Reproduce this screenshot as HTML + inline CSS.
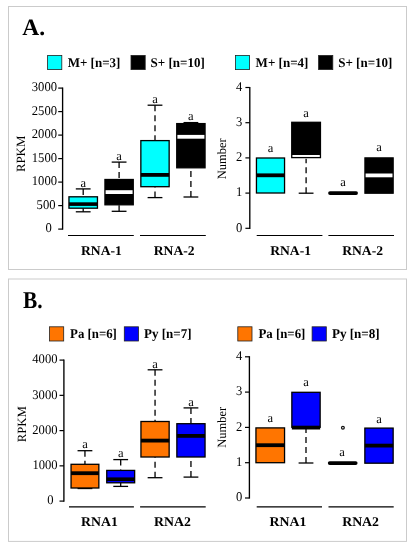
<!DOCTYPE html>
<html lang="en"><head><meta charset="utf-8"><title>Figure</title>
<style>
html,body{margin:0;padding:0;background:#fff;}
body{width:412px;height:550px;overflow:hidden;}
svg{display:block;text-rendering:geometricPrecision;font-family:"Liberation Serif","DejaVu Serif",serif;fill:#000;}
</style></head><body>
<svg width="412" height="550" viewBox="0 0 412 550">
<rect width="412" height="550" fill="#fff"/>
<rect x="8.5" y="6.5" width="398" height="263" fill="#fff" stroke="#cbcbcb" stroke-width="1"/>
<rect x="8.5" y="279" width="398" height="262.4" fill="#fff" stroke="#cbcbcb" stroke-width="1"/>
<text x="22.3" y="34.85" font-size="23.4" font-weight="bold" textLength="22.8" lengthAdjust="spacingAndGlyphs">A.</text>
<rect x="47.6" y="55.4" width="14.2" height="14.2" fill="#00FFFF" stroke="#222" stroke-width="0.8"/>
<text x="67.7" y="66.8" font-size="13.4" font-weight="bold" textLength="52.7" lengthAdjust="spacingAndGlyphs">M+ [n=3]</text>
<rect x="131" y="55.4" width="14.2" height="14.2" fill="#000" stroke="#222" stroke-width="0.8"/>
<text x="150.6" y="66.8" font-size="13.4" font-weight="bold" textLength="54.2" lengthAdjust="spacingAndGlyphs">S+ [n=10]</text>
<rect x="235.4" y="55.4" width="14.2" height="14.2" fill="#00FFFF" stroke="#222" stroke-width="0.8"/>
<text x="255.6" y="66.8" font-size="13.4" font-weight="bold" textLength="52.8" lengthAdjust="spacingAndGlyphs">M+ [n=4]</text>
<rect x="318.6" y="55.4" width="14.2" height="14.2" fill="#000" stroke="#222" stroke-width="0.8"/>
<text x="338.2" y="66.8" font-size="13.4" font-weight="bold" textLength="54.2" lengthAdjust="spacingAndGlyphs">S+ [n=10]</text>
<line x1="62.6" y1="87.5" x2="62.6" y2="229.7" stroke="#000" stroke-width="1.35"/>
<line x1="58.2" y1="88.1" x2="62.6" y2="88.1" stroke="#000" stroke-width="1.2"/>
<text x="57.0" y="91.4" font-size="13.4" text-anchor="end" textLength="25.2" lengthAdjust="spacingAndGlyphs">3000</text>
<line x1="58.2" y1="111.6" x2="62.6" y2="111.6" stroke="#000" stroke-width="1.2"/>
<text x="57.0" y="114.9" font-size="13.4" text-anchor="end" textLength="25.2" lengthAdjust="spacingAndGlyphs">2500</text>
<line x1="58.2" y1="135.1" x2="62.6" y2="135.1" stroke="#000" stroke-width="1.2"/>
<text x="57.0" y="138.4" font-size="13.4" text-anchor="end" textLength="25.2" lengthAdjust="spacingAndGlyphs">2000</text>
<line x1="58.2" y1="158.6" x2="62.6" y2="158.6" stroke="#000" stroke-width="1.2"/>
<text x="57.0" y="161.9" font-size="13.4" text-anchor="end" textLength="25.2" lengthAdjust="spacingAndGlyphs">1500</text>
<line x1="58.2" y1="182.1" x2="62.6" y2="182.1" stroke="#000" stroke-width="1.2"/>
<text x="57.0" y="185.4" font-size="13.4" text-anchor="end" textLength="25.2" lengthAdjust="spacingAndGlyphs">1000</text>
<line x1="58.2" y1="205.6" x2="62.6" y2="205.6" stroke="#000" stroke-width="1.2"/>
<text x="55.5" y="208.9" font-size="13.4" text-anchor="end" textLength="18.9" lengthAdjust="spacingAndGlyphs">500</text>
<line x1="58.2" y1="229.1" x2="62.6" y2="229.1" stroke="#000" stroke-width="1.2"/>
<text x="51.7" y="232.4" font-size="13.4" text-anchor="end" textLength="6.3" lengthAdjust="spacingAndGlyphs">0</text>
<text transform="translate(25 153.9) rotate(-90)" font-size="12.6" text-anchor="middle" textLength="36.4" lengthAdjust="spacingAndGlyphs">RPKM</text>
<line x1="83.19999999999999" y1="188.9" x2="83.19999999999999" y2="196.8" stroke="#000" stroke-width="1.3" stroke-dasharray="6 4"/>
<line x1="75.79999999999998" y1="188.9" x2="90.6" y2="188.9" stroke="#000" stroke-width="1.3"/>
<line x1="83.19999999999999" y1="211.8" x2="83.19999999999999" y2="208.2" stroke="#000" stroke-width="1.3" stroke-dasharray="6 4"/>
<line x1="75.79999999999998" y1="211.8" x2="90.6" y2="211.8" stroke="#000" stroke-width="1.3"/>
<rect x="68.95" y="196.80" width="28.50" height="11.40" fill="#00FFFF"/>
<line x1="68.95" y1="204.1" x2="97.44999999999999" y2="204.1" stroke="#000" stroke-width="3.6"/>
<rect x="68.95" y="196.80" width="28.50" height="11.40" fill="none" stroke="#000" stroke-width="1.3"/>
<text x="83.19999999999999" y="186.6" font-size="12.5" text-anchor="middle">a</text>
<line x1="119.1" y1="162.1" x2="119.1" y2="179.5" stroke="#000" stroke-width="1.3" stroke-dasharray="6 4"/>
<line x1="111.69999999999999" y1="162.1" x2="126.5" y2="162.1" stroke="#000" stroke-width="1.3"/>
<line x1="119.1" y1="211.3" x2="119.1" y2="204.79999999999998" stroke="#000" stroke-width="1.3" stroke-dasharray="6 4"/>
<line x1="111.69999999999999" y1="211.3" x2="126.5" y2="211.3" stroke="#000" stroke-width="1.3"/>
<rect x="104.95" y="179.50" width="28.30" height="25.30" fill="#000"/>
<line x1="104.95" y1="192.1" x2="133.25" y2="192.1" stroke="#fff" stroke-width="3.8"/>
<rect x="104.95" y="179.50" width="28.30" height="25.30" fill="none" stroke="#000" stroke-width="1.3"/>
<text x="119.1" y="159.5" font-size="12.5" text-anchor="middle">a</text>
<line x1="155.0" y1="105.2" x2="155.0" y2="140.60000000000002" stroke="#000" stroke-width="1.3" stroke-dasharray="6 4"/>
<line x1="147.6" y1="105.2" x2="162.4" y2="105.2" stroke="#000" stroke-width="1.3"/>
<line x1="155.0" y1="197.6" x2="155.0" y2="186.7" stroke="#000" stroke-width="1.3" stroke-dasharray="6 4"/>
<line x1="147.6" y1="197.6" x2="162.4" y2="197.6" stroke="#000" stroke-width="1.3"/>
<rect x="140.85" y="140.60" width="28.30" height="46.10" fill="#00FFFF"/>
<line x1="140.85" y1="174.9" x2="169.15" y2="174.9" stroke="#000" stroke-width="3.8"/>
<rect x="140.85" y="140.60" width="28.30" height="46.10" fill="none" stroke="#000" stroke-width="1.3"/>
<text x="155.0" y="103.3" font-size="12.5" text-anchor="middle">a</text>
<line x1="190.89999999999998" y1="122.6" x2="190.89999999999998" y2="123.6" stroke="#000" stroke-width="1.3" stroke-dasharray="6 4"/>
<line x1="183.49999999999997" y1="122.6" x2="198.29999999999998" y2="122.6" stroke="#000" stroke-width="1.3"/>
<line x1="190.89999999999998" y1="197" x2="190.89999999999998" y2="167.79999999999998" stroke="#000" stroke-width="1.3" stroke-dasharray="6 4"/>
<line x1="183.49999999999997" y1="197" x2="198.29999999999998" y2="197" stroke="#000" stroke-width="1.3"/>
<rect x="176.75" y="123.60" width="28.30" height="44.20" fill="#000"/>
<line x1="176.75" y1="136.8" x2="205.04999999999998" y2="136.8" stroke="#fff" stroke-width="3.8"/>
<rect x="176.75" y="123.60" width="28.30" height="44.20" fill="none" stroke="#000" stroke-width="1.3"/>
<text x="190.89999999999998" y="120" font-size="12.5" text-anchor="middle">a</text>
<line x1="68" y1="235.5" x2="133.8" y2="235.5" stroke="#000" stroke-width="1.2"/>
<line x1="140" y1="235.5" x2="205.8" y2="235.5" stroke="#000" stroke-width="1.2"/>
<text x="101.4" y="254.9" font-size="13.4" text-anchor="middle" font-weight="bold" textLength="40.8" lengthAdjust="spacingAndGlyphs">RNA-1</text>
<text x="174.2" y="254.9" font-size="13.4" text-anchor="middle" font-weight="bold" textLength="40.8" lengthAdjust="spacingAndGlyphs">RNA-2</text>
<line x1="249.8" y1="86.9" x2="249.8" y2="228.9" stroke="#000" stroke-width="1.35"/>
<line x1="245.4" y1="87.5" x2="249.8" y2="87.5" stroke="#000" stroke-width="1.2"/>
<text x="242.2" y="90.8" font-size="13.4" text-anchor="end" textLength="6.3" lengthAdjust="spacingAndGlyphs">4</text>
<line x1="245.4" y1="122.7" x2="249.8" y2="122.7" stroke="#000" stroke-width="1.2"/>
<text x="242.2" y="126.0" font-size="13.4" text-anchor="end" textLength="6.3" lengthAdjust="spacingAndGlyphs">3</text>
<line x1="245.4" y1="157.9" x2="249.8" y2="157.9" stroke="#000" stroke-width="1.2"/>
<text x="242.2" y="161.2" font-size="13.4" text-anchor="end" textLength="6.3" lengthAdjust="spacingAndGlyphs">2</text>
<line x1="245.4" y1="193.10000000000002" x2="249.8" y2="193.10000000000002" stroke="#000" stroke-width="1.2"/>
<text x="242.2" y="196.4" font-size="13.4" text-anchor="end" textLength="6.3" lengthAdjust="spacingAndGlyphs">1</text>
<line x1="245.4" y1="228.3" x2="249.8" y2="228.3" stroke="#000" stroke-width="1.2"/>
<text x="242.2" y="231.6" font-size="13.4" text-anchor="end" textLength="6.3" lengthAdjust="spacingAndGlyphs">0</text>
<text transform="translate(225.6 158.8) rotate(-90)" font-size="12.6" text-anchor="middle" textLength="40.9" lengthAdjust="spacingAndGlyphs">Number</text>
<rect x="256.45" y="158.00" width="28.10" height="35.00" fill="#00FFFF"/>
<line x1="256.45" y1="175.3" x2="284.55" y2="175.3" stroke="#000" stroke-width="3.8"/>
<rect x="256.45" y="158.00" width="28.10" height="35.00" fill="none" stroke="#000" stroke-width="1.3"/>
<text x="270.5" y="152" font-size="12.5" text-anchor="middle">a</text>
<line x1="306.1" y1="193.2" x2="306.1" y2="157.6" stroke="#000" stroke-width="1.3" stroke-dasharray="6 4"/>
<line x1="298.70000000000005" y1="193.2" x2="313.5" y2="193.2" stroke="#000" stroke-width="1.3"/>
<rect x="291.75" y="122.30" width="28.70" height="35.30" fill="#000"/>
<line x1="291.75" y1="156.9" x2="320.45000000000005" y2="156.9" stroke="#fff" stroke-width="3.8"/>
<rect x="291.75" y="122.30" width="28.70" height="35.30" fill="none" stroke="#000" stroke-width="1.3"/>
<text x="306.1" y="116.5" font-size="12.5" text-anchor="middle">a</text>
<line x1="330" y1="193.1" x2="356.1" y2="193.1" stroke="#000" stroke-width="3.7" stroke-linecap="round"/>
<text x="343" y="186.3" font-size="12.5" text-anchor="middle">a</text>
<rect x="364.95" y="157.90" width="28.20" height="35.30" fill="#000"/>
<line x1="364.95" y1="175.4" x2="393.15000000000003" y2="175.4" stroke="#fff" stroke-width="3.8"/>
<rect x="364.95" y="157.90" width="28.20" height="35.30" fill="none" stroke="#000" stroke-width="1.3"/>
<text x="379.05" y="151" font-size="12.5" text-anchor="middle">a</text>
<line x1="256.7" y1="235.5" x2="322.4" y2="235.5" stroke="#000" stroke-width="1.2"/>
<line x1="328.4" y1="235.5" x2="394" y2="235.5" stroke="#000" stroke-width="1.2"/>
<text x="290.6" y="254.9" font-size="13.4" text-anchor="middle" font-weight="bold" textLength="40.8" lengthAdjust="spacingAndGlyphs">RNA-1</text>
<text x="362.6" y="254.9" font-size="13.4" text-anchor="middle" font-weight="bold" textLength="40.8" lengthAdjust="spacingAndGlyphs">RNA-2</text>
<text x="23.1" y="307.7" font-size="24.2" font-weight="bold" textLength="19.6" lengthAdjust="spacingAndGlyphs">B.</text>
<rect x="49.5" y="326.8" width="14.2" height="14.2" fill="#FF7500" stroke="#222" stroke-width="0.8"/>
<text x="70.1" y="338.1" font-size="13.4" font-weight="bold" textLength="46.8" lengthAdjust="spacingAndGlyphs">Pa [n=6]</text>
<rect x="124.3" y="326.8" width="14.2" height="14.2" fill="#0000FF" stroke="#222" stroke-width="0.8"/>
<text x="144" y="338.1" font-size="13.4" font-weight="bold" textLength="47.5" lengthAdjust="spacingAndGlyphs">Py [n=7]</text>
<rect x="237.8" y="326.8" width="14.2" height="14.2" fill="#FF7500" stroke="#222" stroke-width="0.8"/>
<text x="258.4" y="338.1" font-size="13.4" font-weight="bold" textLength="47" lengthAdjust="spacingAndGlyphs">Pa [n=6]</text>
<rect x="312.1" y="326.8" width="14.2" height="14.2" fill="#0000FF" stroke="#222" stroke-width="0.8"/>
<text x="331.9" y="338.1" font-size="13.4" font-weight="bold" textLength="47.8" lengthAdjust="spacingAndGlyphs">Py [n=8]</text>
<line x1="63.9" y1="359.5" x2="63.9" y2="501.70000000000005" stroke="#000" stroke-width="1.35"/>
<line x1="59.5" y1="360.1" x2="63.9" y2="360.1" stroke="#000" stroke-width="1.2"/>
<text x="57.5" y="363.4" font-size="13.2" text-anchor="end" textLength="25.2" lengthAdjust="spacingAndGlyphs">4000</text>
<line x1="59.5" y1="395.35" x2="63.9" y2="395.35" stroke="#000" stroke-width="1.2"/>
<text x="57.5" y="398.65" font-size="13.2" text-anchor="end" textLength="25.2" lengthAdjust="spacingAndGlyphs">3000</text>
<line x1="59.5" y1="430.6" x2="63.9" y2="430.6" stroke="#000" stroke-width="1.2"/>
<text x="57.5" y="433.9" font-size="13.2" text-anchor="end" textLength="25.2" lengthAdjust="spacingAndGlyphs">2000</text>
<line x1="59.5" y1="465.85" x2="63.9" y2="465.85" stroke="#000" stroke-width="1.2"/>
<text x="57.6" y="469.15" font-size="13.2" text-anchor="end" textLength="25.2" lengthAdjust="spacingAndGlyphs">1000</text>
<line x1="59.5" y1="501.1" x2="63.9" y2="501.1" stroke="#000" stroke-width="1.2"/>
<text x="53.5" y="504.4" font-size="13.2" text-anchor="end" textLength="6.3" lengthAdjust="spacingAndGlyphs">0</text>
<text transform="translate(26.2 424.2) rotate(-90)" font-size="12.6" text-anchor="middle" textLength="36.3" lengthAdjust="spacingAndGlyphs">RPKM</text>
<line x1="84.95" y1="450.7" x2="84.95" y2="464.3" stroke="#000" stroke-width="1.3" stroke-dasharray="6 4"/>
<line x1="77.55" y1="450.7" x2="92.35000000000001" y2="450.7" stroke="#000" stroke-width="1.3"/>
<line x1="77.55" y1="488.5" x2="92.35000000000001" y2="488.5" stroke="#000" stroke-width="1.3"/>
<rect x="71.05" y="464.30" width="27.80" height="23.70" fill="#FF7500"/>
<line x1="71.05000000000001" y1="473.2" x2="98.85" y2="473.2" stroke="#000" stroke-width="3.8"/>
<rect x="71.05" y="464.30" width="27.80" height="23.70" fill="none" stroke="#000" stroke-width="1.3"/>
<text x="84.95" y="447.8" font-size="12.5" text-anchor="middle">a</text>
<line x1="120.7" y1="459.6" x2="120.7" y2="470.40000000000003" stroke="#000" stroke-width="1.3" stroke-dasharray="6 4"/>
<line x1="113.3" y1="459.6" x2="128.1" y2="459.6" stroke="#000" stroke-width="1.3"/>
<line x1="120.7" y1="486.4" x2="120.7" y2="482.8" stroke="#000" stroke-width="1.3" stroke-dasharray="6 4"/>
<line x1="113.3" y1="486.4" x2="128.1" y2="486.4" stroke="#000" stroke-width="1.3"/>
<rect x="106.75" y="470.40" width="27.90" height="12.40" fill="#0000FF"/>
<line x1="106.75" y1="479.2" x2="134.65" y2="479.2" stroke="#000" stroke-width="3.6"/>
<rect x="106.75" y="470.40" width="27.90" height="12.40" fill="none" stroke="#000" stroke-width="1.3"/>
<text x="120.7" y="456.9" font-size="12.5" text-anchor="middle">a</text>
<line x1="155.05" y1="369.8" x2="155.05" y2="421.5" stroke="#000" stroke-width="1.3" stroke-dasharray="6 4"/>
<line x1="147.65" y1="369.8" x2="162.45000000000002" y2="369.8" stroke="#000" stroke-width="1.3"/>
<line x1="155.05" y1="477.7" x2="155.05" y2="457.0" stroke="#000" stroke-width="1.3" stroke-dasharray="6 4"/>
<line x1="147.65" y1="477.7" x2="162.45000000000002" y2="477.7" stroke="#000" stroke-width="1.3"/>
<rect x="140.95" y="421.50" width="28.20" height="35.50" fill="#FF7500"/>
<line x1="140.95000000000002" y1="440.6" x2="169.15" y2="440.6" stroke="#000" stroke-width="3.8"/>
<rect x="140.95" y="421.50" width="28.20" height="35.50" fill="none" stroke="#000" stroke-width="1.3"/>
<text x="155.05" y="367.5" font-size="12.5" text-anchor="middle">a</text>
<line x1="190.95" y1="407.9" x2="190.95" y2="423.7" stroke="#000" stroke-width="1.3" stroke-dasharray="6 4"/>
<line x1="183.54999999999998" y1="407.9" x2="198.35" y2="407.9" stroke="#000" stroke-width="1.3"/>
<line x1="190.95" y1="477.1" x2="190.95" y2="457.0" stroke="#000" stroke-width="1.3" stroke-dasharray="6 4"/>
<line x1="183.54999999999998" y1="477.1" x2="198.35" y2="477.1" stroke="#000" stroke-width="1.3"/>
<rect x="176.85" y="423.70" width="28.20" height="33.30" fill="#0000FF"/>
<line x1="176.85" y1="435.9" x2="205.04999999999998" y2="435.9" stroke="#000" stroke-width="3.8"/>
<rect x="176.85" y="423.70" width="28.20" height="33.30" fill="none" stroke="#000" stroke-width="1.3"/>
<text x="190.95" y="405.7" font-size="12.5" text-anchor="middle">a</text>
<line x1="69" y1="506.8" x2="133.9" y2="506.8" stroke="#000" stroke-width="1.2"/>
<line x1="140.1" y1="506.8" x2="205.7" y2="506.8" stroke="#000" stroke-width="1.2"/>
<text x="99.4" y="525.8" font-size="13.4" text-anchor="middle" font-weight="bold" textLength="36.8" lengthAdjust="spacingAndGlyphs">RNA1</text>
<text x="172.4" y="525.8" font-size="13.4" text-anchor="middle" font-weight="bold" textLength="36.8" lengthAdjust="spacingAndGlyphs">RNA2</text>
<line x1="249.4" y1="356.2" x2="249.4" y2="498.6" stroke="#000" stroke-width="1.35"/>
<line x1="245.0" y1="356.8" x2="249.4" y2="356.8" stroke="#000" stroke-width="1.2"/>
<text x="242.4" y="360.1" font-size="13.4" text-anchor="end" textLength="6.3" lengthAdjust="spacingAndGlyphs">4</text>
<line x1="245.0" y1="392.1" x2="249.4" y2="392.1" stroke="#000" stroke-width="1.2"/>
<text x="242.4" y="395.4" font-size="13.4" text-anchor="end" textLength="6.3" lengthAdjust="spacingAndGlyphs">3</text>
<line x1="245.0" y1="427.4" x2="249.4" y2="427.4" stroke="#000" stroke-width="1.2"/>
<text x="242.4" y="430.7" font-size="13.4" text-anchor="end" textLength="6.3" lengthAdjust="spacingAndGlyphs">2</text>
<line x1="245.0" y1="462.7" x2="249.4" y2="462.7" stroke="#000" stroke-width="1.2"/>
<text x="242.4" y="466.0" font-size="13.4" text-anchor="end" textLength="6.3" lengthAdjust="spacingAndGlyphs">1</text>
<line x1="245.0" y1="498.0" x2="249.4" y2="498.0" stroke="#000" stroke-width="1.2"/>
<text x="242.4" y="501.3" font-size="13.4" text-anchor="end" textLength="6.3" lengthAdjust="spacingAndGlyphs">0</text>
<text transform="translate(226.3 427.3) rotate(-90)" font-size="12.6" text-anchor="middle" textLength="41" lengthAdjust="spacingAndGlyphs">Number</text>
<rect x="255.95" y="427.90" width="28.60" height="34.80" fill="#FF7500"/>
<line x1="255.95000000000002" y1="445.2" x2="284.55" y2="445.2" stroke="#000" stroke-width="3.8"/>
<rect x="255.95" y="427.90" width="28.60" height="34.80" fill="none" stroke="#000" stroke-width="1.3"/>
<text x="270.25" y="422" font-size="12.5" text-anchor="middle">a</text>
<line x1="306.0" y1="463.0" x2="306.0" y2="427.3" stroke="#000" stroke-width="1.3" stroke-dasharray="6 4"/>
<line x1="298.6" y1="463.0" x2="313.4" y2="463.0" stroke="#000" stroke-width="1.3"/>
<rect x="291.85" y="392.30" width="28.30" height="35.00" fill="#0000FF"/>
<line x1="291.84999999999997" y1="427.6" x2="320.15000000000003" y2="427.6" stroke="#000" stroke-width="3.8"/>
<rect x="291.85" y="392.30" width="28.30" height="35.00" fill="none" stroke="#000" stroke-width="1.3"/>
<text x="306.0" y="385.9" font-size="12.5" text-anchor="middle">a</text>
<line x1="329.7" y1="463.1" x2="355.7" y2="463.1" stroke="#000" stroke-width="3.7" stroke-linecap="round"/>
<text x="342" y="455.9" font-size="12.5" text-anchor="middle">a</text>
<circle cx="342.9" cy="427.8" r="1.4" fill="#fff" stroke="#111" stroke-width="1.2"/>
<rect x="364.85" y="428.10" width="28.30" height="35.10" fill="#0000FF"/>
<line x1="364.84999999999997" y1="445.6" x2="393.15000000000003" y2="445.6" stroke="#000" stroke-width="3.8"/>
<rect x="364.85" y="428.10" width="28.30" height="35.10" fill="none" stroke="#000" stroke-width="1.3"/>
<text x="379.0" y="422.7" font-size="12.5" text-anchor="middle">a</text>
<line x1="256.7" y1="506.8" x2="322" y2="506.8" stroke="#000" stroke-width="1.2"/>
<line x1="328.5" y1="506.8" x2="393.7" y2="506.8" stroke="#000" stroke-width="1.2"/>
<text x="288" y="525.8" font-size="13.4" text-anchor="middle" font-weight="bold" textLength="36.8" lengthAdjust="spacingAndGlyphs">RNA1</text>
<text x="360.6" y="525.8" font-size="13.4" text-anchor="middle" font-weight="bold" textLength="36.8" lengthAdjust="spacingAndGlyphs">RNA2</text>
</svg>
</body></html>
